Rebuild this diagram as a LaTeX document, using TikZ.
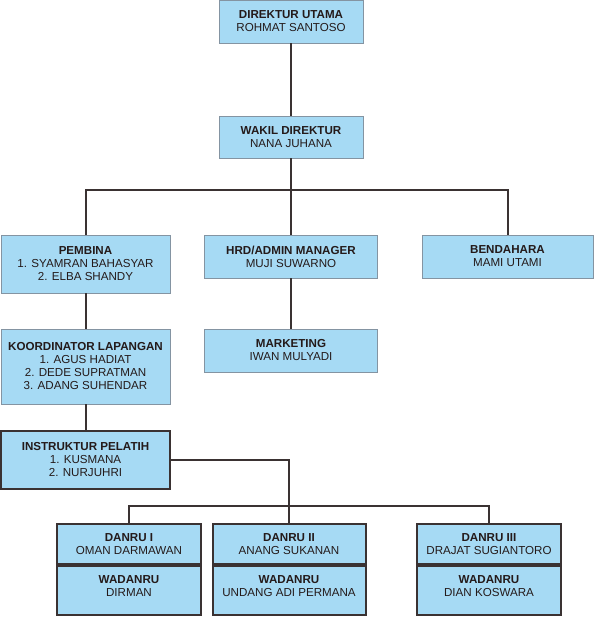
\documentclass[tikz,border=0pt]{standalone}
\usepackage{fontspec}
\setmainfont{Liberation Sans}
\definecolor{boxblue}{HTML}{A6DAF4}
\definecolor{boxgray}{HTML}{8494A2}
\definecolor{linedark}{HTML}{3A3232}
\definecolor{textdark}{HTML}{241A1A}
\begin{document}
\begin{tikzpicture}[
            x=1pt, y=-1pt,
            every node/.style={align=center, text=textdark, font=\fontsize{11.6}{13}\selectfont, inner sep=1pt},
            box/.style={draw=boxgray, line width=0.9pt, fill=boxblue, minimum width=#1},
            box/.default=144pt,
            thickbox/.style={draw=linedark, line width=2pt, fill=boxblue, minimum width=#1},
            thickbox/.default=144pt,
            lowbox/.style={thickbox=#1, minimum height=49pt, anchor=north},
            lowbox/.default=144pt,
            link/.style={draw=linedark, line width=2pt}
            ]
            \useasboundingbox (0,0) rectangle (594,640);
            \node[box, minimum height=43pt] (du) at (291,21.5) {\textbf{DIREKTUR UTAMA}\\ROHMAT SANTOSO};
            \node[box, minimum height=42pt] (wd) at (291,137) {\textbf{WAKIL DIREKTUR}\\NANA JUHANA};
            \node[box=169pt, minimum height=58pt] (pemb) at (85.5,264) {\textbf{PEMBINA}\\1. SYAMRAN BAHASYAR\\2. ELBA SHANDY};
            \node[box=173pt, minimum height=43pt] (hrd) at (291,256.5) {\textbf{HRD/ADMIN MANAGER}\\MUJI SUWARNO};
            \node[box=171pt, minimum height=43pt] (bend) at (507.5,256.5) {\textbf{BENDAHARA}\\MAMI UTAMI};
            \node[box=173pt, minimum height=43pt] (mkt) at (291,350.5) {\textbf{MARKETING}\\IWAN MULYADI};
            \node[box=169pt, minimum height=75pt] (koord) at (85.5,366.5) {\textbf{KOORDINATOR LAPANGAN}\\1. AGUS HADIAT\\2. DEDE SUPRATMAN\\3. ADANG SUHENDAR};
            \node[thickbox=169pt, minimum height=58pt] (instr) at (85.5,460) {\textbf{INSTRUKTUR PELATIH}\\1. KUSMANA\\2. NURJUHRI};
            \node[thickbox, minimum height=40pt] (dan1) at (129,544) {\textbf{DANRU I}\\OMAN DARMAWAN};
            \node[lowbox, label={[yshift=4pt]center:\textbf{WADANRU}\\DIRMAN}] (wdan1) at (dan1.south) {};
            \node[thickbox=153pt, minimum height=40pt] (dan2) at (289,544) {\textbf{DANRU II}\\ANANG SUKANAN};
            \node[lowbox=153pt, label={[yshift=4pt]center:\textbf{WADANRU}\\UNDANG ADI PERMANA}] (wdan2) at (dan2.south) {};
            \node[thickbox, minimum height=40pt] (dan3) at (489,544) {\textbf{DANRU III}\\DRAJAT SUGIANTORO};
            \node[lowbox, label={[yshift=4pt]center:\textbf{WADANRU}\\DIAN KOSWARA}] (wdan3) at (dan3.south) {};
            \coordinate (bustop) at (291,190);
            \coordinate (busdanru) at (289,506);
            \draw[link] (du) -- (wd);
            \draw[link] (wd) -- (hrd);
            \draw[link] (pemb.north) |- (bustop) -| (bend.north);
            \draw[link] (hrd) -- (mkt);
            \draw[link] (pemb) -- (koord);
            \draw[link] (koord) -- (instr);
            \draw[link] (instr.east) -| (busdanru);
            \draw[link] (dan1.north) |- (busdanru) -| (dan3.north);
            \draw[link] (busdanru) -- (dan2.north);
\end{tikzpicture}
\end{document}
